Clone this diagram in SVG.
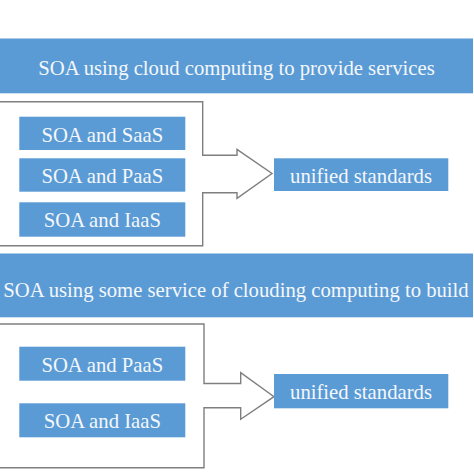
<svg xmlns="http://www.w3.org/2000/svg" width="474" height="474" viewBox="0 0 474 474">
<style>
.bar{fill:#5b9bd5;}
.box{fill:#5b9bd5;}
.t{font-family:"Liberation Serif","Times New Roman",serif;font-size:20.7px;fill:#f4f7fb;text-anchor:middle;}
.out{fill:#ffffff;stroke:#7f7f7f;stroke-width:1.4;stroke-linejoin:miter;}
</style>
<rect width="474" height="474" fill="#ffffff"/>
<g id="connectors">
<path class="out" d="M-2,101.7 H202.7 V155.2 H237 V149.3 L272,173.5 L237,198.3 V192.7 H202.7 V245.7 H-2 Z"/>
<path class="out" d="M-2,324 H204 V383.5 H240.7 V372.7 L274,396.7 L240.7,419.3 V407.8 H204 V467.7 H-2 Z"/>
</g>
<g id="banner1">
<rect class="bar" x="0" y="38.5" width="473" height="54.8"/>
<text class="t" x="236.5" y="75">SOA using cloud computing to provide services</text>
</g>
<g id="soa-saas">
<rect class="box" x="19.3" y="116.7" width="166" height="33.3"/>
<text class="t" x="102.3" y="141.7">SOA and SaaS</text>
</g>
<g id="soa-paas-1">
<rect class="box" x="19.3" y="158.3" width="166" height="33.4"/>
<text class="t" x="102.3" y="183.3">SOA and PaaS</text>
</g>
<g id="soa-iaas-1">
<rect class="box" x="19.3" y="202.3" width="166" height="34.4"/>
<text class="t" x="102.3" y="227">SOA and IaaS</text>
</g>
<g id="unified1">
<rect class="box" x="274" y="158.3" width="174.3" height="32.7"/>
<text class="t" x="361" y="182.5">unified standards</text>
</g>
<g id="banner2">
<rect class="bar" x="0" y="253.5" width="473" height="63.8"/>
<text class="t" x="236" y="297">SOA using some service of clouding computing to build</text>
</g>
<g id="soa-paas-2">
<rect class="box" x="19.3" y="346.7" width="166" height="34"/>
<text class="t" x="102.3" y="371.5">SOA and PaaS</text>
</g>
<g id="soa-iaas-2">
<rect class="box" x="19.3" y="403.3" width="166" height="34"/>
<text class="t" x="102.3" y="428">SOA and IaaS</text>
</g>
<g id="unified2">
<rect class="box" x="274" y="374" width="174.3" height="34.3"/>
<text class="t" x="361" y="399">unified standards</text>
</g>
</svg>
